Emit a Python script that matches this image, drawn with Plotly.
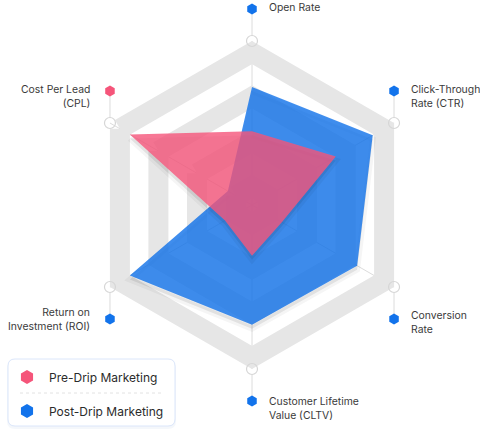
import math
import plotly.graph_objects as go

# Metrics around the radar (clockwise from the top)
metrics = ['Open Rate', 'CTR', 'Conversion Rate', 'CLTV', 'ROI', 'CPL']
metric_labels = ['Open Rate', 'Click-Through<br>Rate (CTR)', 'Conversion<br>Rate',
                 'Customer Lifetime<br>Value (CLTV)', 'Return on<br>Investment (ROI)',
                 'Cost Per Lead<br>(CPL)']

# Scores (0-100)
pre_drip = [45, 59, 21, 31, 19, 86]
post_drip = [72, 85, 74, 73, 86, 17]
series_names = ['Pre-Drip Marketing', 'Post-Drip Marketing']

W, H = 480, 446
CX, CY, R = 252, 205, 164   # centre and radius of the radar, px
RMAX = 100

PINK = '#f5557a'
BLUE = '#1273eb'
FONT = 'Inter, Roboto, sans-serif'


def px(x):
    return (x - CX) / R


def py(y):
    return (CY - y) / R


def polar_cfg(dy=0, bands=False):
    return dict(
        domain=dict(x=[(CX - R) / W, (CX + R) / W],
                    y=[1 - (CY + R + dy) / H, 1 - (CY - R + dy) / H]),
        bgcolor='rgba(0,0,0,0)',
        gridshape='linear',
        radialaxis=dict(range=[0, RMAX], visible=bands, showticklabels=False, ticks='',
                        showline=False, tickvals=[11.3, 38.7, 65.9, 93],
                        gridcolor='#e6e6e6', gridwidth=20),
        angularaxis=dict(rotation=90, direction='clockwise', type='category',
                         categoryarray=metrics, showticklabels=False, ticks='',
                         showline=False, showgrid=bands, gridcolor='#dcdcdc', gridwidth=1),
    )


fig = go.Figure()

# grid: bands, spokes and the small rings at the axis ends
fig.add_trace(go.Scatterpolar(
    r=[RMAX] * len(metrics), theta=metrics, mode='markers', subplot='polar',
    marker=dict(symbol='circle-open', size=11, color='#d6d6d6', line=dict(width=1.2)),
    cliponaxis=False, hoverinfo='skip', showlegend=False))

# series polygons, each with a soft shadow underneath
layers = [('polar2', 'polar3', post_drip, 'rgba(18,115,235,0.8)', series_names[1]),
          ('polar4', 'polar5', pre_drip, 'rgba(245,85,122,0.8)', series_names[0])]
for shadow_sp, sp, vals, col, name in layers:
    fig.add_trace(go.Scatterpolar(
        r=vals, theta=metrics, subplot=shadow_sp, mode='lines', fill='toself',
        fillcolor='rgba(0,0,0,0.08)', line=dict(color='rgba(0,0,0,0.04)', width=6),
        hoverinfo='skip', showlegend=False))
    fig.add_trace(go.Scatterpolar(
        r=vals, theta=metrics, subplot=sp, mode='lines', fill='toself', name=name,
        fillcolor=col, line=dict(width=0), showlegend=False))

# stems and hexagon markers next to each axis label
stem_x, stem_y, mk_x, mk_y, mk_c = [], [], [], [], []
label_dy = [2, -5, -3, -7, 0, -5]
annotations = []
for i, m in enumerate(metrics):
    a = math.radians(90 - 60 * i)
    vx, vy = math.cos(a), math.sin(a)
    sgn = 1 if vy > 0 else -1
    mx, my = vx, vy + sgn * 32 / R
    stem_x += [vx, mx, None]
    stem_y += [vy + sgn * 5.5 / R, my, None]
    mk_x.append(mx)
    mk_y.append(my)
    mk_c.append(BLUE if post_drip[i] >= pre_drip[i] else PINK)
    left = vx < -0.1
    annotations.append(dict(
        x=mx + (-18 / R if left else 15 / R), y=my, xref='x', yref='y',
        text=metric_labels[i], showarrow=False,
        xanchor='right' if left else 'left', yanchor='middle',
        align='right' if left else 'left', yshift=label_dy[i],
        font=dict(family=FONT, size=10.4, color='#3a3a3a')))

fig.add_trace(go.Scatter(x=stem_x, y=stem_y, mode='lines', line=dict(color='#dcdcdc', width=1),
                         hoverinfo='skip', showlegend=False, cliponaxis=False))
fig.add_trace(go.Scatter(x=mk_x, y=mk_y, mode='markers', cliponaxis=False, hoverinfo='skip',
                         marker=dict(symbol='hexagon', size=11, color=mk_c), showlegend=False))

# custom legend box
lx0, lx1, ly0, ly1, rad = 8, 175, 359, 426, 7


def rounded(x0, x1, y0, y1, r):
    pts = [('M', x0 + r, y0), ('L', x1 - r, y0), ('Q', x1, y0, x1, y0 + r), ('L', x1, y1 - r),
           ('Q', x1, y1, x1 - r, y1), ('L', x0 + r, y1), ('Q', x0, y1, x0, y1 - r),
           ('L', x0, y0 + r), ('Q', x0, y0, x0 + r, y0)]
    out = ''
    for p in pts:
        coords = ' '.join(f'{px(p[k]):.4f},{py(p[k + 1]):.4f}' for k in range(1, len(p), 2))
        out += f'{p[0]} {coords} '
    return out + 'Z'


shapes = [
    dict(type='path', path=rounded(lx0 - 1, lx1 + 1, ly0 + 2, ly1 + 3, rad + 1), xref='x', yref='y',
         fillcolor='rgba(120,150,200,0.08)', line=dict(width=0), layer='below'),
    dict(type='path', path=rounded(lx0, lx1, ly0, ly1, rad), xref='x', yref='y',
         fillcolor='white', line=dict(color='#dbe6fa', width=1), layer='below'),
    dict(type='line', x0=px(20), x1=px(164), y0=py(393), y1=py(393), xref='x', yref='y',
         line=dict(color='#e2e2e2', width=1, dash='dot'), layer='below'),
]

leg_y = [377, 411]
leg_cols = [PINK, BLUE]
fig.add_trace(go.Scatter(x=[px(27)] * 2, y=[py(v) for v in leg_y], mode='markers',
                         marker=dict(symbol='hexagon', size=14, color=leg_cols),
                         cliponaxis=False, hoverinfo='skip', showlegend=False))
for name, yv in zip(series_names, leg_y):
    annotations.append(dict(x=px(47), y=py(yv), xref='x', yref='y', text=name, showarrow=False,
                            xanchor='left', yanchor='middle',
                            font=dict(family=FONT, size=12, color='#2b2b2b')))

fig.update_layout(
    width=W, height=H, margin=dict(l=0, r=0, t=0, b=0),
    paper_bgcolor='white', plot_bgcolor='rgba(0,0,0,0)',
    polar=polar_cfg(bands=True),
    polar2=polar_cfg(dy=4), polar3=polar_cfg(),
    polar4=polar_cfg(dy=4), polar5=polar_cfg(),
    xaxis=dict(range=[px(0), px(W)], domain=[0, 1], visible=False, fixedrange=True),
    yaxis=dict(range=[py(H), py(0)], domain=[0, 1], visible=False, fixedrange=True),
    shapes=shapes, annotations=annotations, showlegend=False,
)

# the page body has a default 8px margin; drop it so the chart sits at 0,0
fig.write_html('out.html', config={'displayModeBar': False},
               post_script="document.body.style.margin = '0';")
